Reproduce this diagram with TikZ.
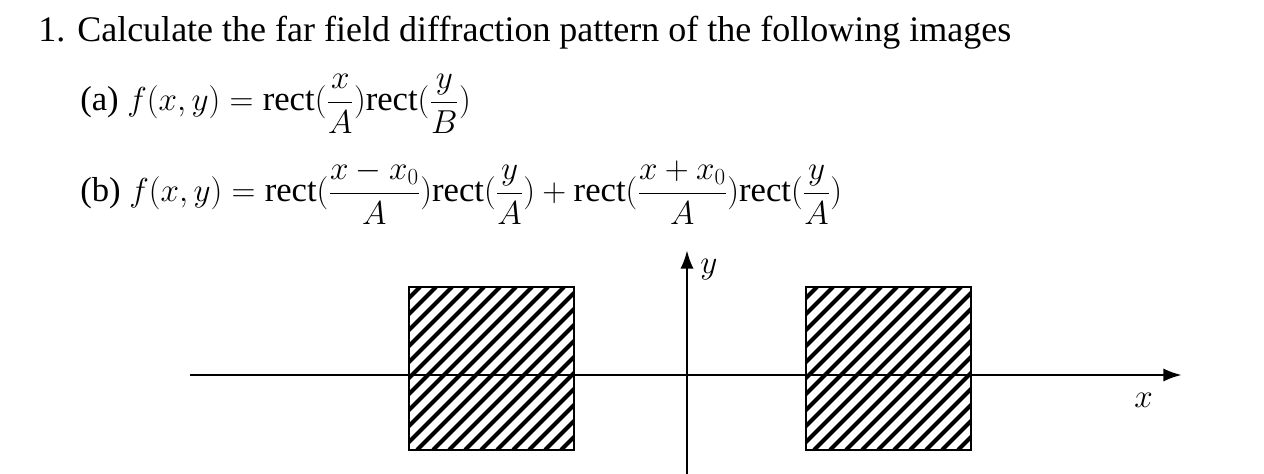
\documentclass[tikz,border=0pt]{standalone}
\usepackage{fontspec}
\setmainfont{Liberation Serif}
\usetikzlibrary{arrows.meta}
\begin{document}
\begin{tikzpicture}[x=0.75pt,y=-0.75pt,
  txt/.style={anchor=west,inner sep=0pt,font=\fontsize{26}{30}\selectfont},
  ttl/.style={anchor=west,inner sep=0pt,font=\fontsize{27}{30}\selectfont}]
\useasboundingbox (0,0) rectangle (1264,474);
\node[ttl] (title) at (38,33) {1. Calculate the far field diffraction pattern of the following images};
\node[txt] (pa) at (80,104) {(a) $\displaystyle f(x,y)=\mathrm{rect}(\frac{x}{A})\mathrm{rect}(\frac{y}{B})$};
\node[txt] (pb) at (80,192) {(b) $\displaystyle f(x,y)=\mathrm{rect}(\frac{x-x_0}{A})\mathrm{rect}(\frac{y}{A})+\mathrm{rect}(\frac{x+x_0}{A})\mathrm{rect}(\frac{y}{A})$};
% hatched squares
\foreach \xa in {409,806}{
  \begin{scope}
    \clip (\xa,287) rectangle ++(165,163);
    \foreach \k in {-200,-184,...,200}
      \draw[line width=3pt] (\xa+\k,450) -- ++(163,-163);
  \end{scope}
  \draw[line width=2pt] (\xa,287) rectangle ++(165,163);
}
\coordinate (xs) at (190,375);
\coordinate (xe) at (1182,375);
\coordinate (ys) at (687,474);
\coordinate (ye) at (687,250);
\draw[line width=2.2pt,-{Latex[length=14pt,width=10pt]}] (xs) -- (xe);
\draw[line width=2.2pt,-{Latex[length=14pt,width=10pt]}] (ys) -- (ye);
\node[txt] (ylab) at (700,270) {$y$};
\node[txt] (xlab) at (1134,400) {$x$};
\end{tikzpicture}
\end{document}
